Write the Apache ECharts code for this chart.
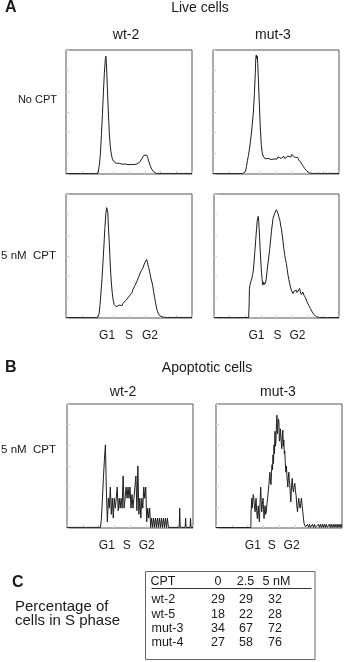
<!DOCTYPE html>
<html><head><meta charset="utf-8">
<script src="https://cdn.jsdelivr.net/npm/echarts@6/dist/echarts.min.js"></script>
<style>html,body{margin:0;padding:0;background:#fff}#c{width:344px;height:662px}</style>
</head><body><div id="c"></div>
<script>
// ---------- DATA (channel, relative count) ----------
const liveWt2NoCPT = [[0,0.3],[8,0.4],[16,0.3],[24,0.4],[30,0.3],[32.5,0.5],[33,2],[34,8],[35,17],[36,32],[37,48],[38,66],[39,82],[40,93],[40.5,95],[41,90],[42,70],[43,50],[44,33],[45,22],[46,16],[47,12.5],[48,10.5],[49,9.6],[50,9.2],[51,8.6],[52,9.0],[53,8.3],[54,8.7],[55,8.1],[56,8.4],[57,7.9],[58,8.2],[59,7.8],[60,8.1],[61,7.6],[62,7.9],[63,7.5],[64,7.8],[65,7.4],[66,7.7],[67,7.5],[68,7.9],[69,7.6],[70,8.0],[71,8.3],[72,8.1],[73,8.6],[74,9.0],[75,9.6],[76,10.8],[77,12.4],[78,13.8],[79,15],[80,15.6],[81,16],[82,15.2],[83,13.2],[84,10.5],[85,8],[86,5.8],[87,4],[88,2.8],[89,1.8],[90,1.1],[91,0.7],[92,0.5],[95,0.4],[98,0.5],[101,0.3],[104,0.5],[107,0.4],[110,0.3],[113,0.5],[116,0.4],[119,0.3],[122,0.5],[125,0.4],[128,0.3]];

const liveMut3NoCPT = [[0,0.3],[10,0.3],[20,0.3],[30,0.3],[32,0.3],[32.5,0.5],[33,2],[34,6],[35,11],[36,15],[37,20],[38,26],[39,33],[40,41],[41,50],[42,64],[43,82],[43.5,94],[44,96],[44.5,93],[45,95],[45.5,89],[46,78],[47,58],[48,38],[49,24],[50,17],[51,14.5],[52,13],[53,12.2],[54,13.4],[55,11.8],[56,12.6],[57,11.5],[58,12.9],[59,11.7],[60,12.4],[61,11.2],[62,12.1],[63,11.6],[64,13],[65,12],[66,13.8],[67,12.3],[68,14.8],[69,12.6],[70,13.5],[71,12.1],[72,14.2],[73,12.4],[74,13.6],[75,12.8],[76,14.4],[77,13.1],[78,15],[79,13.7],[80,15.8],[81,14.2],[82,15.5],[83,13.6],[84,14.1],[85,12.7],[86,13.2],[87,11.5],[88,10.8],[89,9.5],[90,8.4],[91,7],[92,5.8],[93,4.6],[94,3.5],[95,2.6],[96,1.8],[97,1.2],[98,0.8],[99,0.6],[101,0.5],[104,0.4],[107,0.6],[110,0.4],[113,0.5],[116,0.4],[119,0.6],[122,0.4],[125,0.5],[128,0.4]];

const liveWt25nM = [[0,0.3],[10,0.4],[20,0.3],[32,0.3],[32.8,0.5],[33.5,3],[34.5,10],[35.5,20],[36.5,31],[37.5,44],[38.5,58],[39.5,73],[40.5,84],[41.3,89],[42,87],[42.5,85],[43,75],[44,60],[45,42],[46,29],[47,20],[48,14],[49,11],[50,10.2],[51,9],[52,9.8],[53,8.8],[54,10.4],[55,9.6],[56,10.8],[57,10],[58,11.9],[59,11],[60,13.2],[61,14.4],[62,14],[63,16.3],[64,17.5],[65,18.4],[66,19.8],[67,20.4],[68,23],[69,23.6],[70,26.1],[71,26.8],[72,29.5],[73,30.8],[74,33.6],[75,35.1],[76,37.4],[77,36.8],[78,40.1],[79,41.3],[80,44.6],[81,43.8],[82,47.2],[82.5,45.5],[83,46.4],[84,40.5],[85,37.2],[86,33],[87,29.8],[88,26.5],[89,21.4],[90,16.5],[91,12.2],[92,8],[93,5.2],[94,3.2],[95,2],[96,1.3],[97,0.9],[98,0.6],[100,0.5],[103,0.4],[106,0.5],[109,0.3],[112,0.5],[115,0.4],[118,0.5],[121,0.3],[124,0.5],[128,0.4]];

const liveMut35nM = [[0,0.3],[10,0.4],[20,0.3],[30,0.4],[35.5,0.4],[36,12],[36.3,24],[37,27],[37.4,28],[38,30],[38.8,32],[39.5,35],[40.1,37],[41,45],[41.8,53.5],[42.3,58],[42.8,64],[43.5,71],[44.2,78],[44.7,80],[45.2,82],[45.7,79],[46.2,72],[46.7,65],[47.2,56],[48,45],[48.6,37],[49.3,31],[50,26.5],[50.5,28],[51,29],[51.6,27],[52.3,26],[53,29],[53.7,33],[54.5,39],[55.4,45],[56.2,50],[57.1,56],[58,63],[58.8,70],[59.6,75],[60.5,80.5],[61.3,82],[62.2,84.6],[63,85.5],[63.9,87.3],[64.4,86],[64.9,86],[65.6,84],[66.3,82],[67,80],[67.7,78],[68.3,74],[69,72],[69.8,67],[70.7,61.6],[71.5,56],[72.4,51],[73.2,47],[74.1,44],[75,39],[75.8,34.6],[76.6,31],[77.5,28],[78.3,25],[79.2,22.4],[80,21],[80.9,19.7],[81.7,21.5],[82.6,20.5],[83.4,22],[84.3,22.4],[85.1,20.5],[86,19.7],[86.8,22],[87.7,23.8],[88.5,21],[89.4,19],[90.2,20.5],[91,21],[92,18.5],[92.8,17],[93.6,16.5],[94.5,15.7],[95.3,13],[96.2,11.6],[97,10.2],[97.9,9],[98.8,7.5],[99.6,6.2],[100.5,5],[101.3,4.3],[102.2,3],[103,2.2],[104,1.4],[104.7,1],[106,0.6],[108,0.4],[110,0.7],[112,0.4],[114,0.6],[116,0.3],[118,0.6],[120,0.4],[122,0.7],[124,0.4],[126,0.6],[128,0.4]];

const apoWt25nM = [[0,0.5],[20,0.5],[34,0.5],[35,8],[36,24],[37,41],[38,55],[39,67],[40,30],[41,5],[42,24],[43,16],[44,33],[45,11],[46,24],[47,8],[48,24],[49,16],[50,24],[51,33],[52,14],[53,24],[54,16],[55,24],[56,16],[57,42],[58,16],[59,24],[60,33],[61,24],[62,33],[63,24],[64,33],[65,16],[66,27],[67,16],[68,24],[69,33],[70,42],[71,14],[72,50],[73,11],[74,24],[75,8],[76,24],[77,16],[78,33],[79,24],[80,33],[81,5],[82,16],[83,8],[84,16],[85,0.5],[86,8],[87,0.5],[88,8],[89,0.5],[90,8],[91,0.5],[92,8],[93,0.5],[94,8],[95,0.5],[96,8],[97,0.5],[98,8],[99,0.5],[100,8],[101,0.5],[102,8],[103,0.5],[114,0.5],[114.5,16],[115,0.5],[120,0.5],[120.5,8],[121,0.5],[125,0.5],[125.5,8],[126,0.5],[128,0.5]];

const apoMut35nM = [[0,0.4],[20,0.4],[35.4,0.4],[35.6,12],[36.3,24],[36.8,16],[37.3,21],[37.8,27],[38.3,25],[39,18],[39.7,13],[40.2,20],[40.7,24],[41.3,14],[42,7.6],[42.5,14],[43,18],[43.5,10],[44.1,5],[44.7,20],[45.4,33],[45.9,22],[46.4,13],[47.1,19],[47.8,24],[48.3,15],[48.8,7.6],[49.3,14],[49.8,18],[50.4,11],[51.1,13],[51.8,20],[52.5,24],[53.1,30],[53.8,35],[54.3,41],[54.8,45],[55.3,38],[55.9,35],[56.4,45],[56.9,51],[57.4,47],[57.9,59],[58.4,52],[58.9,67],[59.4,60],[59.9,78],[60.4,66],[60.9,70],[61.4,84],[61.9,91],[62.4,76],[62.9,82],[63.4,88],[63.9,86],[64.4,70],[64.9,72],[65.4,80],[65.9,79],[66.4,68],[66.9,64],[67.4,74],[67.9,79],[68.4,66],[68.9,71],[69.4,60],[69.9,62],[70.4,52],[71,45],[71.5,50],[72,43],[72.5,37],[73,33],[73.5,41],[74,45],[74.5,38],[75,35],[75.5,27],[76,21],[76.7,33],[77.4,40],[78,33],[78.7,29],[79.4,34],[80.1,36],[80.7,30],[81.4,26],[82.1,18],[82.8,13],[83.4,19],[84.1,24],[84.8,18],[85.5,16],[86.1,20],[86.8,24],[87.5,18],[88.2,13],[88.8,8],[89.5,3.5],[90.2,2],[90.9,1],[92,0.5],[93,3],[94,0.5],[95,3],[96,0.5],[97,0.5],[98,3],[99,0.5],[100,3],[101,0.5],[103,0.5],[104,3],[105,0.5],[106,3],[107,0.5],[108,3],[109,0.5],[110,3],[111,0.5],[112,3],[113,0.5],[114,0.5],[115,3],[116,0.5],[117,3],[118,0.5],[119,3],[120,0.5],[121,3],[122,0.5],[123,3],[124,0.5],[125,3],[126,0.5],[127,3],[128,0.5]];

const phaseLabels = ['G1', 'S', 'G2'];
const phasePosLiveWt = [41.7, 64, 85.3];
const phasePosLiveMut = [43.5, 65, 85.4];
const phasePosApoWt = [40.5, 60.8, 81];
const phasePosApoMut = [37.4, 56.6, 76.8];

const tableHeader = ['CPT', '0', '2.5', '5 nM'];
const tableLines = ['wt-2', 'wt-5', 'mut-3', 'mut-4'];
const sPhaseCPT0 = [29, 18, 34, 27];
const sPhaseCPT25 = [29, 22, 67, 58];
const sPhaseCPT5 = [32, 28, 72, 76];

// ---------- LAYOUT ----------
const FONT = '"Liberation Sans", Arial, Helvetica, sans-serif';
const panels = [
  {left: 66, top: 50, width: 126, height: 124, data: liveWt2NoCPT},
  {left: 213, top: 50, width: 126, height: 124, data: liveMut3NoCPT},
  {left: 66, top: 194, width: 126, height: 124, data: liveWt25nM, phases: phasePosLiveWt},
  {left: 214, top: 194, width: 125, height: 124, data: liveMut35nM, phases: phasePosLiveMut},
  {left: 67, top: 404, width: 126, height: 124, data: apoWt25nM, phases: phasePosApoWt},
  {left: 216, top: 404, width: 126, height: 124, data: apoMut35nM, phases: phasePosApoMut}
];

const chart = echarts.init(document.getElementById('c'), null, {renderer: 'canvas'});
const tick = {show: true, inside: true, length: 3, lineStyle: {color: '#cfcfcf', width: 1}};
chart.setOption({
  animation: false,
  backgroundColor: '#fff',
  grid: panels.map(p => ({left: p.left, top: p.top, width: p.width, height: p.height,
    show: true, borderColor: '#555', borderWidth: 1, backgroundColor: 'transparent', containLabel: false})),
  xAxis: panels.map((p, i) => ({type: 'value', gridIndex: i, min: 0, max: 128, interval: 16,
    axisLine: {show: false}, axisTick: tick, axisLabel: {show: false}, splitLine: {show: false}})),
  yAxis: panels.map((p, i) => ({type: 'value', gridIndex: i, min: 0, max: 100, interval: 100 / 6,
    axisLine: {show: false}, axisTick: tick, axisLabel: {show: false}, splitLine: {show: false}})),
  series: panels.map((p, i) => ({type: 'line', xAxisIndex: i, yAxisIndex: i, data: p.data,
    showSymbol: false, symbol: 'none', silent: true, clip: true,
    lineStyle: {color: '#1e1e1e', width: 1}}))
});

const g = [];
function txt(x, y, text, size, opts) {
  opts = opts || {};
  g.push({type: 'text', x: x, y: y, silent: true, style: {
    text: text, fill: '#1a1a1a', font: (opts.bold ? 'bold ' : '') + size + 'px ' + FONT,
    textAlign: opts.align || 'center', textVerticalAlign: 'middle'}});
}
// headings
txt(5, 8, 'A', 16, {bold: true, align: 'left'});
txt(200, 8, 'Live cells', 14);
txt(126, 35, 'wt-2', 14);
txt(273, 35, 'mut-3', 14);
txt(57, 100, 'No CPT', 11, {align: 'right'});
txt(56, 256, '5 nM  CPT', 11.5, {align: 'right'});
txt(5, 368, 'B', 16, {bold: true, align: 'left'});
txt(207, 368, 'Apoptotic cells', 14);
txt(123, 392, 'wt-2', 14);
txt(278, 392, 'mut-3', 14);
txt(56, 450, '5 nM  CPT', 11.5, {align: 'right'});
// phase labels under axes
panels.forEach((p, i) => {
  if (!p.phases) return;
  p.phases.forEach((v, k) => {
    const pt = chart.convertToPixel({xAxisIndex: i, yAxisIndex: i}, [v, 0]);
    txt(pt[0], pt[1] + 17.5, phaseLabels[k], 12);
  });
});
// panel C
txt(12, 583, 'C', 16, {bold: true, align: 'left'});
txt(15, 607, 'Percentage of', 15, {align: 'left'});
txt(15, 621, 'cells in S phase', 15, {align: 'left'});
g.push({type: 'rect', silent: true, shape: {x: 145.5, y: 571.5, width: 169.5, height: 88},
  style: {fill: 'none', stroke: '#666', lineWidth: 1}});
g.push({type: 'line', silent: true, shape: {x1: 151.5, y1: 588.5, x2: 311.5, y2: 588.5},
  style: {stroke: '#333', lineWidth: 1}});
const colX = [163, 218, 245.5, 276.5];
tableHeader.forEach((h, k) => txt(colX[k], 581.5, h, 12.5));
const numX = [218, 246, 275];
tableLines.forEach((name, r) => {
  const y = 600 + r * 14.3;
  txt(151.5, y, name, 12.5, {align: 'left'});
  [sPhaseCPT0, sPhaseCPT25, sPhaseCPT5].forEach((col, c) => txt(numX[c], y, String(col[r]), 12.5));
});
chart.setOption({graphic: {elements: g}});
</script>
</body></html>
